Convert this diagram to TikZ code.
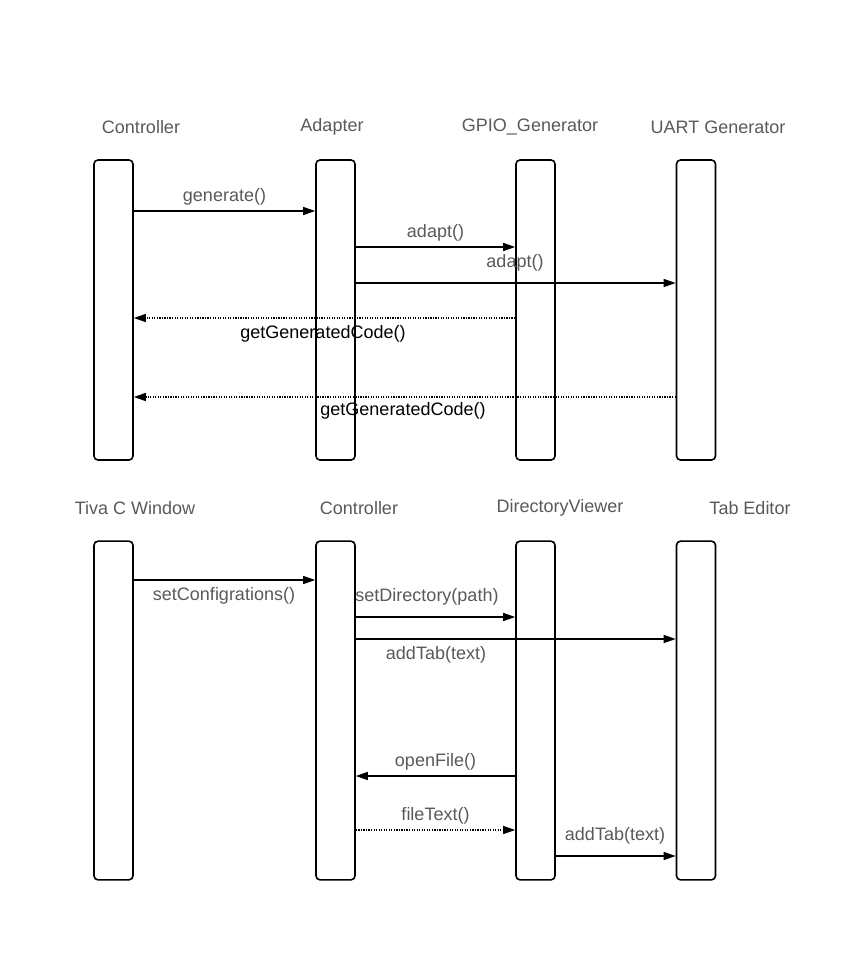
\documentclass[tikz,border=0pt]{standalone}
\usepackage{fontspec}
\setmainfont{Liberation Sans}
\usetikzlibrary{arrows.meta}
\definecolor{txtgray}{HTML}{595959}
\tikzset{
  life/.style={draw, line width=1.2pt, rounded corners=3pt, minimum width=29.25pt, minimum height=#1, inner sep=0pt},
  head/.style={text=txtgray, font=\fontsize{13.5}{15}\selectfont},
  msg/.style={line width=0.9pt, -{Triangle[length=9pt,width=6pt]}},
  reply/.style={msg, densely dotted},
  lbl/.style={text=txtgray, font=\fontsize{13.5}{15}\selectfont, inner sep=1pt},
  blbl/.style={lbl, text=black}
}
\begin{document}
\begin{tikzpicture}[x=0.75pt,y=-0.75pt]
\useasboundingbox (0,0) rectangle (845,975);
% top diagram
\node[life=225pt] (ctlA) at (113.5,310) {};
\node[life=225pt] (adp) at (335.5,310) {};
\node[life=225pt] (gpio) at (535.5,310) {};
\node[life=225pt] (uart) at (696,310) {};
\node[head] (hCtlA) at (141,127) {Controller};
\node[head] (hAdp) at (332,127) {Adapter};
\node[head] (hGpio) at (530,127) {GPIO\_Generator};
\node[head] (hUart) at (718,127) {UART Generator};
\draw[msg] (ctlA.east |- 0,211) -- (adp.west |- 0,211) node[lbl, midway, above=3pt] {generate()};
\draw[msg] (adp.east |- 0,247) -- (gpio.west |- 0,247) node[lbl, midway, above=3pt] {adapt()};
\draw[msg] (adp.east |- 0,283) -- (uart.west |- 0,283);
\node[lbl] (lAdapt) at (515,263) {adapt()};
\draw[reply] (gpio.west |- 0,318) -- (ctlA.east |- 0,318);
\node[blbl] (lGet1) at (323,334) {getGeneratedCode()};
\draw[reply] (uart.west |- 0,397) -- (ctlA.east |- 0,397);
\node[blbl] (lGet2) at (403,411) {getGeneratedCode()};
% bottom diagram
\node[life=254pt] (tiva) at (113.5,710.5) {};
\node[life=254pt] (ctlB) at (335.5,710.5) {};
\node[life=254pt] (dir) at (535.5,710.5) {};
\node[life=254pt] (tab) at (696,710.5) {};
\node[head] (hTiva) at (135,508) {Tiva C Window};
\node[head] (hCtlB) at (359,508) {Controller};
\node[head] (hDir) at (560,508) {DirectoryViewer};
\node[head] (hTab) at (750,508) {Tab Editor};
\draw[msg] (tiva.east |- 0,580) -- (ctlB.west |- 0,580);
\node[lbl] (lConf) at (224,596) {setConfigrations()};
\draw[msg] (ctlB.east |- 0,617) -- (dir.west |- 0,617);
\node[lbl] (lDir) at (427,597) {setDirectory(path)};
\draw[msg] (ctlB.east |- 0,639) -- (tab.west |- 0,639);
\node[lbl] (lTab1) at (436,655) {addTab(text)};
\draw[msg] (dir.west |- 0,776) -- (ctlB.east |- 0,776) node[lbl, midway, above=3pt] {openFile()};
\draw[reply] (ctlB.east |- 0,830) -- (dir.west |- 0,830) node[lbl, midway, above=3pt] {fileText()};
\draw[msg] (dir.east |- 0,856) -- (tab.west |- 0,856);
\node[lbl] (lTab2) at (615,836) {addTab(text)};
\end{tikzpicture}
\end{document}
